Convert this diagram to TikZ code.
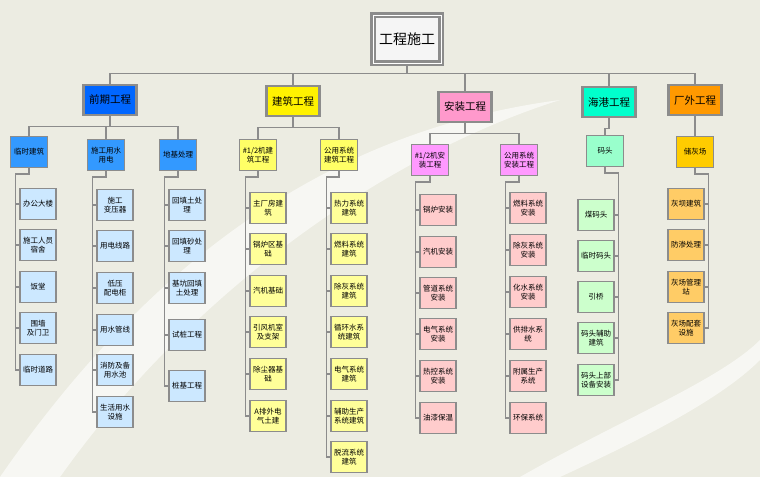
\documentclass[tikz,border=0pt]{standalone}
\usepackage{fontspec}
\setmainfont{Noto Sans CJK SC}
\usetikzlibrary{positioning,calc}
\definecolor{bgc}{HTML}{ECECE2}
\definecolor{linec}{HTML}{8C8C8C}
\definecolor{lfblue}{HTML}{CCE8FF}
\definecolor{lfyellow}{HTML}{FFFF99}
\definecolor{lfpink}{HTML}{FFCCCC}
\definecolor{lfgreen}{HTML}{CCFFCC}
\definecolor{lforange}{HTML}{FFCC66}
\tikzset{
  box/.style={draw=linec,line width=1.2pt,align=center,inner sep=1pt,font=\fontsize{7.5}{9}\selectfont},
  leaf/.style={box,minimum width=36pt,minimum height=31pt,text width=34pt},
  mid/.style={box,minimum width=36pt,minimum height=31pt,text width=35pt},
  head/.style={box,line width=2.5pt,minimum width=53pt,minimum height=30pt,font=\fontsize{10.5}{12}\selectfont},
  conn/.style={draw=linec,line width=1.3pt},
}
\begin{document}
\begin{tikzpicture}[x=1pt,y=-1pt]
		\fill[bgc] (0,0) rectangle (760,477);
		\fill[white,opacity=0.6] (0,477) .. controls (150,260) and (330,130) .. (560,100) .. controls (400,150) and (200,280) .. (60,477) -- cycle;
		\fill[white,opacity=0.6] (520,477) .. controls (620,420) and (720,380) .. (760,340) -- (760,360) .. controls (720,400) and (640,440) .. (560,477) -- cycle;
		\node[box,line width=2.5pt,double=white,double distance=1pt,minimum width=68pt,minimum height=48pt,fill=gray!8,font=\fontsize{14}{16}\selectfont] (top) at (407,39) {工程施工};
		% level 1
		\node[head,fill={rgb,255:red,0;green,102;blue,255}] (qq) at (110,100) {前期工程};
		\node[head,fill=yellow] (jz) at (293,101) {建筑工程};
		\node[head,fill={rgb,255:red,255;green,153;blue,204}] (az) at (465,107) {安装工程};
		\node[head,fill={rgb,255:red,0;green,255;blue,204}] (hg) at (609,102) {海港工程};
		\node[head,fill={rgb,255:red,255;green,153;blue,0}] (cw) at (695,100) {厂外工程};
		% level 2
		\node[mid,fill={rgb,255:red,51;green,153;blue,255}] (lsjz) at (29,152) {临时建筑};
		\node[mid,fill={rgb,255:red,51;green,153;blue,255}] (sgsd) at (106,155) {施工用水\\用电};
		\node[mid,fill={rgb,255:red,51;green,153;blue,255}] (djcl) at (178,155) {地基处理};
		\node[mid,fill={rgb,255:red,255;green,255;blue,102}] (jzj) at (258,155) {\#1/2机建\\筑工程};
		\node[mid,fill={rgb,255:red,255;green,255;blue,102}] (jzg) at (339,155) {公用系统\\建筑工程};
		\node[mid,fill={rgb,255:red,255;green,153;blue,255}] (azj) at (430,160) {\#1/2机安\\装工程};
		\node[mid,fill={rgb,255:red,255;green,153;blue,255}] (azg) at (519,160) {公用系统\\安装工程};
		\node[mid,fill={rgb,255:red,153;green,255;blue,204}] (mt) at (605,151) {码头};
		\node[mid,fill={rgb,255:red,255;green,204;blue,0}] (chc) at (695,152) {储灰场};

		\foreach \h in {qq,jz,az,hg,cw}
			\draw[conn] (top.south) -- ++(0,9) -| (\h.north);
		\foreach \p/\c in {qq/lsjz,qq/sgsd,qq/djcl,jz/jzj,jz/jzg,az/azj,az/azg,hg/mt,cw/chc}
			\draw[conn] (\p.south) -- ++(0,10) -| (\c.north);

		% leaves, trunk on the left
		\foreach \p/\x/\fc/\list in {
			lsjz/38/lfblue/{204/办公大楼,245/施工人员\\宿舍,287/饭堂,328/围墙\\及门卫,370/临时道路},
			sgsd/115/lfblue/{205/施工\\变压器,246/用电线路,288/低压\\配电柜,330/用水管线,370/消防及备\\用水池,412/生活用水\\设施},
			djcl/187/lfblue/{205/回填土处\\理,246/回填砂处\\理,288/基坑回填\\土处理,335/试桩工程,386/桩基工程},
			jzj/268/lfyellow/{208/主厂房建\\筑,249/锅炉区基\\础,291/汽机基础,332/引风机室\\及支架,374/除尘器基\\础,416/A排外电\\气土建},
			jzg/349/lfyellow/{208/热力系统\\建筑,249/燃料系统\\建筑,291/除灰系统\\建筑,332/循环水系\\统建筑,374/电气系统\\建筑,416/辅助生产\\系统建筑,457/脱流系统\\建筑},
			azj/438/lfpink/{210/锅炉安装,252/汽机安装,293/管道系统\\安装,334/电气系统\\安装,376/热控系统\\安装,418/油漆保温},
			azg/528/lfpink/{208/燃料系统\\安装,250/除灰系统\\安装,292/化水系统\\安装,334/供排水系\\统,376/附属生产\\系统,418/环保系统}}{
			\foreach \y/\t [count=\n] in \list {
				\node[leaf,fill=\fc] (\p-\n) at (\x,\y) {\t};
				\draw[conn] ([xshift=-4pt]\p-\n.west) -- (\p-\n.west);
				\xdef\lastn{\n}
			}
			\draw[conn] (\p.south) -- ++(0,6) -| ([xshift=-4pt]\p-\lastn.west);
		}
		% leaves, trunk on the right
		\foreach \p/\x/\fc/\list in {
			mt/596/lfgreen/{215/煤码头,256/临时码头,297/引桥,338/码头辅助\\建筑,380/码头上部\\设备安装},
			chc/686/lforange/{204/灰坝建筑,245/防渗处理,287/灰场管理\\站,328/灰场配套\\设施}}{
			\foreach \y/\t [count=\n] in \list {
				\node[leaf,fill=\fc] (\p-\n) at (\x,\y) {\t};
				\draw[conn] ([xshift=4pt]\p-\n.east) -- (\p-\n.east);
				\xdef\lastn{\n}
			}
			\draw[conn] (\p.south) -- ++(0,6) -| ([xshift=4pt]\p-\lastn.east);
		}
\end{tikzpicture}
\end{document}
